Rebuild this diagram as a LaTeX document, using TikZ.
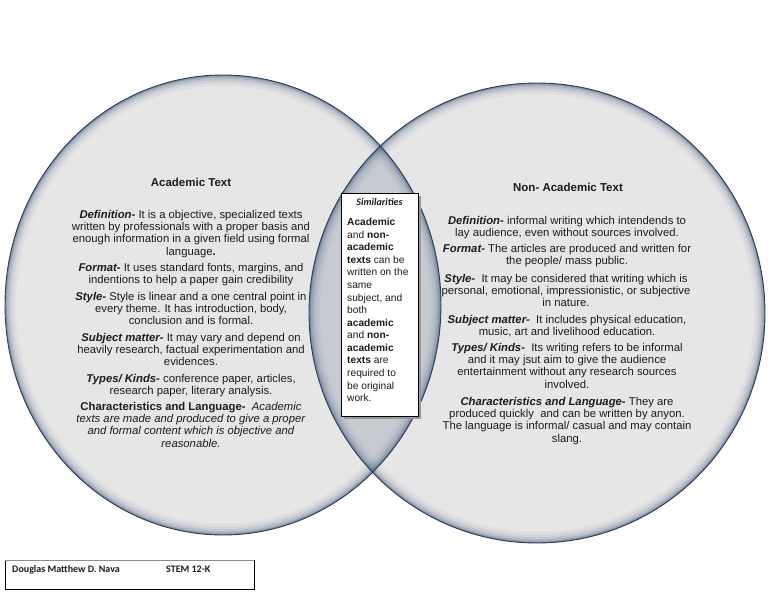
\documentclass[tikz,border=0pt]{standalone}
\usepackage{fontspec}
\setmainfont{Liberation Sans}
\newfontfamily\calfont{Carlito}
\definecolor{basefill}{RGB}{230,230,230}
\definecolor{lensfill}{RGB}{198,203,210}
\definecolor{shadowc}{RGB}{65,90,124}
\definecolor{edgec}{RGB}{42,62,92}
\definecolor{txt}{RGB}{28,28,28}
\tikzset{
  para/.style={align=center, inner sep=0pt, anchor=north, text=txt,
    font=\fontsize{11.3}{12.25}\selectfont},
  title/.style={inner sep=0pt, text=txt, font=\fontsize{11.5}{12}\selectfont\bfseries},
  simbody/.style={align=left, inner sep=0pt, anchor=north west, text=txt,
    font=\fontsize{10.2}{12.57}\selectfont},
  namebox/.style={draw=black, line width=0.6pt, fill=white},
  nametext/.style={inner sep=0pt, anchor=base west, text=txt,
    font=\calfont\fontsize{10}{12}\selectfont\bfseries},
}
\newcommand{\bi}[1]{\textbf{\textit{#1}}}
\begin{document}
\begin{tikzpicture}[x=1pt,y=-1pt]
\useasboundingbox (0,0) rectangle (768,594);
\fill[white] (0,0) rectangle (768,594);

% base fills
\fill[basefill] (223,305) ellipse [x radius=218pt, y radius=230pt];
\fill[basefill] (537,313) ellipse [x radius=228pt, y radius=230pt];
% lens
\begin{scope}
  \clip (223,305) ellipse [x radius=218pt, y radius=230pt];
  \fill[lensfill] (537,313) ellipse [x radius=228pt, y radius=230pt];
\end{scope}
% inner shadows
\begin{scope}
  \clip (223,305) ellipse [x radius=218pt, y radius=230pt];
  \foreach \w/\o in {22/0.05,16/0.08,11/0.11,7/0.15,4/0.22,2/0.3}{
    \draw[shadowc, line width=\w pt, draw opacity=\o] (223,305) ellipse [x radius=218pt, y radius=230pt];}
\end{scope}
\begin{scope}
  \clip (537,313) ellipse [x radius=228pt, y radius=230pt];
  \foreach \w/\o in {22/0.05,16/0.08,11/0.11,7/0.15,4/0.22,2/0.3}{
    \draw[shadowc, line width=\w pt, draw opacity=\o] (537,313) ellipse [x radius=228pt, y radius=230pt];}
\end{scope}
\draw[edgec, line width=0.9pt] (223,305) ellipse [x radius=218pt, y radius=230pt];
\draw[edgec, line width=0.9pt] (537,313) ellipse [x radius=228pt, y radius=230pt];

% titles
\node[title] (tA) at (191,182) {Academic Text};
\node[title] (tN) at (568,187) {Non- Academic Text};

% left paragraphs
\node[para] (lDef) at (191,210) {\bi{Definition-} It is a objective, specialized texts\\ written by professionals with a proper basis and\\ enough information in a given field using formal\\ language\textbf{.}};
\node[para] (lFor) at (191,263) {\bi{Format-} It uses standard fonts, margins, and\\ indentions to help a paper gain credibility};
\node[para] (lSty) at (191,292) {\bi{Style-} Style is linear and a one central point in\\ every theme. It has introduction, body,\\ conclusion and is formal.};
\node[para] (lSub) at (191,333) {\bi{Subject matter-} It may vary and depend on\\ heavily research, factual experimentation and\\ evidences.};
\node[para] (lTyp) at (191,374) {\bi{Types/ Kinds-} conference paper, articles,\\ research paper, literary analysis.};
\node[para] (lCha) at (191,402) {\textbf{Characteristics and Language-}\ \ \textit{Academic}\\ \textit{texts are made and produced to give a proper}\\ \textit{and formal content which is objective and}\\ \textit{reasonable.}};

% right paragraphs
\node[para] (rDef) at (567,216) {\bi{Definition-} informal writing which intendends to\\ lay audience, even without sources involved.};
\node[para] (rFor) at (567,244) {\bi{Format-} The articles are produced and written for\\ the people/ mass public.};
\node[para] (rSty) at (566,274) {\bi{Style-}\ \ It may be considered that writing which is\\ personal, emotional, impressionistic, or subjective\\ in nature.};
\node[para] (rSub) at (567,315) {\bi{Subject matter-}\ \ It includes physical education,\\ music, art and livelihood education.};
\node[para] (rTyp) at (567,343) {\bi{Types/ Kinds-}\ \ Its writing refers to be informal\\ and it may jsut aim to give the audience\\ entertainment without any research sources\\ involved.};
\node[para] (rCha) at (567,397) {\bi{Characteristics and Language-} They are\\ produced quickly\ \ and can be written by anyon.\\ The language is informal/ casual and may contain\\ slang.};

% similarities box
\fill[black!40] (343.5,195.5) rectangle (420.5,418.5);
\node[draw=black, line width=0.7pt, fill=white, minimum width=77pt, minimum height=223pt, inner sep=0pt, anchor=north west] (simbox) at (341,193) {};
\node[inner sep=0pt, text=txt, font=\calfont\fontsize{10}{12}\selectfont\bfseries\itshape] (simT) at (379.5,202) {Similarities};
\node[simbody] (simB) at (347,218) {\textbf{Academic}\\ and \textbf{non-}\\ \textbf{academic}\\ \textbf{texts} can be\\ written on the\\ same\\ subject, and\\ both\\ \textbf{academic}\\ and \textbf{non-}\\ \textbf{academic}\\ \textbf{texts} are\\ required to\\ be original\\ work.};

% name box
\draw[namebox] (5,560) rectangle (254,589);
\draw[black!45, line width=1pt] (5,560) -- (254,560);
\node[nametext] (nm) at (12,572.5) {Douglas Matthew D. Nava};
\node[nametext] (cls) at (166,572.5) {STEM 12-K};
\end{tikzpicture}
\end{document}
